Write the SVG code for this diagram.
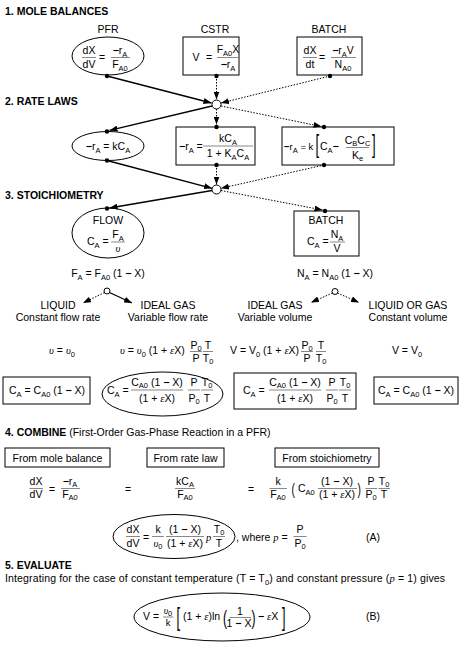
<svg xmlns="http://www.w3.org/2000/svg" width="464" height="646" viewBox="0 0 464 646">
<style>
text{font-family:"Liberation Sans",Arial,sans-serif;font-size:10.5px;fill:#000}
.m{text-anchor:middle}
.b{font-weight:bold}
.s{font-size:7.5px}
.mn{font-weight:bold}
.v{font-family:"Liberation Serif","Times New Roman",serif;font-style:italic}
.bx{fill:none;stroke:#000;stroke-width:1}
.fl{stroke:#555;stroke-width:0.7}
.jn{fill:#fff;stroke:#000;stroke-width:1}
.sol{fill:none;stroke:#000;stroke-width:1.3}
.dt{fill:none;stroke:#000;stroke-width:1;stroke-dasharray:1.5 1.5}
.pt{fill:#000}
</style>
<defs>
<marker id="ar" markerUnits="userSpaceOnUse" markerWidth="8" markerHeight="6" refX="8" refY="3" orient="auto">
<path d="M0,0 L8,3 L0,6 z" fill="#000"/>
</marker>
</defs>
<rect width="464" height="646" fill="#fff"/>

<g id="headings">
<text x="5" y="15" class="b">1. MOLE BALANCES</text>
<text x="5" y="105" class="b">2. RATE LAWS</text>
<text x="5" y="199" class="b">3. STOICHIOMETRY</text>
<text x="5" y="436"><tspan class="b">4. COMBINE</tspan> (First-Order Gas-Phase Reaction in a PFR)</text>
<text x="5" y="569" class="b">5. EVALUATE</text>
</g>

<g id="connectors">
<line class="sol" x1="107" y1="76" x2="211.5" y2="103" marker-end="url(#ar)"/>
<line class="dt" x1="216.5" y1="76" x2="216.5" y2="99.5" marker-end="url(#ar)"/>
<line class="dt" x1="330" y1="76" x2="221" y2="103" marker-end="url(#ar)"/>
<line class="sol" x1="212" y1="106" x2="109.5" y2="130.4" marker-end="url(#ar)"/>
<line class="dt" x1="216.5" y1="109" x2="216.5" y2="124.5" marker-end="url(#ar)"/>
<line class="dt" x1="221" y1="106" x2="321.5" y2="126.5" marker-end="url(#ar)"/>
<line class="sol" x1="107" y1="160.5" x2="212" y2="188.3" marker-end="url(#ar)"/>
<line class="dt" x1="216.5" y1="165" x2="216.5" y2="184.5" marker-end="url(#ar)"/>
<line class="dt" x1="324" y1="165" x2="221" y2="188.3" marker-end="url(#ar)"/>
<line class="sol" x1="212" y1="190.5" x2="109.5" y2="208" marker-end="url(#ar)"/>
<line class="dt" x1="221" y1="190.5" x2="322.5" y2="210" marker-end="url(#ar)"/>
<line class="dt" x1="104.5" y1="292.5" x2="83" y2="303" marker-end="url(#ar)"/>
<line class="sol" x1="109.5" y1="292.5" x2="132" y2="303" marker-end="url(#ar)"/>
<line class="dt" x1="332.5" y1="293" x2="311" y2="302.5" marker-end="url(#ar)"/>
<line class="dt" x1="337.5" y1="293" x2="359" y2="302.5" marker-end="url(#ar)"/>
<circle class="pt" cx="107" cy="76" r="2.2"/>
<circle class="pt" cx="216.5" cy="76" r="2.2"/>
<circle class="pt" cx="330" cy="76" r="2.2"/>
<circle class="pt" cx="107" cy="131.5" r="2.2"/>
<circle class="pt" cx="216.5" cy="127" r="2.2"/>
<circle class="pt" cx="324" cy="127" r="2.2"/>
<circle class="pt" cx="107" cy="160.5" r="2.2"/>
<circle class="pt" cx="216.5" cy="165" r="2.2"/>
<circle class="pt" cx="324" cy="165" r="2.2"/>
<circle class="pt" cx="107" cy="208.5" r="2.2"/>
<circle class="pt" cx="325" cy="211" r="2.2"/>
</g>

<g id="pfr">
<text x="108" y="33" class="m">PFR</text>
<ellipse cx="108" cy="56" rx="36" ry="19" class="bx"/>
<text x="89" y="54" class="m">dX</text>
<line class="fl" x1="82" y1="57.5" x2="96" y2="57.5"/>
<text x="89" y="68" class="m">dV</text>
<text x="102" y="61" class="m">=</text>
<text x="120" y="54" class="m"><tspan class="mn">−</tspan>r<tspan class="s" dy="2.5">A</tspan></text>
<line class="fl" x1="111" y1="57.5" x2="130" y2="57.5"/>
<text x="120" y="68" class="m">F<tspan class="s" dy="2.5">A0</tspan></text>
</g>

<g id="cstr">
<text x="215" y="33" class="m">CSTR</text>
<rect x="183" y="37" width="56" height="38" class="bx"/>
<text x="196" y="61" class="m">V</text>
<text x="209" y="61" class="m">=</text>
<text x="228" y="53" class="m">F<tspan class="s" dy="2.5">A0</tspan><tspan dy="-2.5">X</tspan></text>
<line class="fl" x1="217" y1="57.5" x2="238" y2="57.5"/>
<text x="228" y="68" class="m"><tspan class="mn">−</tspan>r<tspan class="s" dy="2.5">A</tspan></text>
</g>

<g id="batch">
<text x="329" y="33" class="m">BATCH</text>
<rect x="297" y="37" width="65" height="38" class="bx"/>
<text x="310" y="54" class="m">dX</text>
<line class="fl" x1="303" y1="57.5" x2="317" y2="57.5"/>
<text x="310" y="68" class="m">dt</text>
<text x="322" y="61" class="m">=</text>
<text x="343" y="54" class="m"><tspan class="mn">−</tspan>r<tspan class="s" dy="2.5">A</tspan><tspan dy="-2.5">V</tspan></text>
<line class="fl" x1="331" y1="57.5" x2="356" y2="57.5"/>
<text x="343" y="68" class="m">N<tspan class="s" dy="2.5">A0</tspan></text>
</g>

<g id="junction1"><circle cx="216.5" cy="104.5" r="4.5" class="jn"/></g>

<g id="rate-elementary">
<ellipse cx="108" cy="146" rx="36" ry="14.5" class="bx"/>
<text x="108" y="150" class="m"><tspan class="mn">−</tspan>r<tspan class="s" dy="2.5">A</tspan><tspan dy="-2.5"> = kC</tspan><tspan class="s" dy="2.5">A</tspan></text>
</g>

<g id="rate-langmuir">
<rect x="176" y="127" width="79" height="38" class="bx"/>
<text x="179" y="150"><tspan class="mn">−</tspan>r<tspan class="s" dy="2.5">A</tspan><tspan dy="-2.5"> =</tspan></text>
<text x="228" y="142" class="m">kC<tspan class="s" dy="2.5">A</tspan></text>
<line class="fl" x1="203" y1="146" x2="253" y2="146"/>
<text x="228" y="157" class="m">1 + K<tspan class="s" dy="2.5">A</tspan><tspan dy="-2.5">C</tspan><tspan class="s" dy="2.5">A</tspan></text>
</g>

<g id="rate-reversible">
<rect x="282" y="127" width="112" height="38" class="bx"/>
<text x="284" y="150" style="font-size:9.5px"><tspan class="mn">−</tspan>r<tspan class="s" dy="2.5">A</tspan><tspan dy="-2.5"> = k</tspan></text>
<text transform="translate(315.5,152.5) scale(0.5,1)" style="font-size:26px">[</text>
<text x="320" y="150">C<tspan class="s" dy="2.5">A</tspan><tspan dy="-2.5" class="mn">−</tspan></text>
<text x="357.5" y="143.5" class="m">C<tspan class="s" dy="2">B</tspan><tspan dy="-2">C</tspan><tspan class="s" dy="2">C</tspan></text>
<line class="fl" x1="346" y1="147.5" x2="369" y2="147.5"/>
<text x="357.5" y="158.5" class="m">K<tspan class="s" dy="2">e</tspan></text>
<text transform="translate(372,152.5) scale(0.5,1)" style="font-size:26px">]</text>
</g>

<g id="junction2"><circle cx="216.5" cy="189.5" r="4.5" class="jn"/></g>

<g id="flow">
<ellipse cx="108" cy="233" rx="36" ry="25" class="bx"/>
<text x="108" y="224" class="m">FLOW</text>
<text x="87" y="245">C<tspan class="s" dy="2.5">A</tspan><tspan dy="-2.5"> =</tspan></text>
<text x="118" y="238" class="m">F<tspan class="s" dy="2.5">A</tspan></text>
<line class="fl" x1="111" y1="242" x2="125" y2="242"/>
<text x="118" y="252" class="m v">υ</text>
</g>

<g id="batch-stoich">
<rect x="294" y="211" width="65" height="45" class="bx"/>
<text x="326" y="224" class="m">BATCH</text>
<text x="307" y="245">C<tspan class="s" dy="2.5">A</tspan><tspan dy="-2.5"> =</tspan></text>
<text x="337" y="238" class="m">N<tspan class="s" dy="2.5">A</tspan></text>
<line class="fl" x1="330" y1="242" x2="345" y2="242"/>
<text x="337" y="252" class="m">V</text>
</g>

<g id="flow-molar">
<text x="108" y="277" class="m">F<tspan class="s" dy="2.5">A</tspan><tspan dy="-2.5"> = F</tspan><tspan class="s" dy="2.5">A0</tspan><tspan dy="-2.5"> (1 </tspan><tspan class="mn">−</tspan> X)</text>
<circle cx="107" cy="291" r="3" class="jn"/>
</g>
<g id="batch-molar">
<text x="335" y="277" class="m">N<tspan class="s" dy="2.5">A</tspan><tspan dy="-2.5"> = N</tspan><tspan class="s" dy="2.5">A0</tspan><tspan dy="-2.5"> (1 </tspan><tspan class="mn">−</tspan> X)</text>
<circle cx="335" cy="291.5" r="3" class="jn"/>
</g>

<g id="liquid">
<text x="58" y="309" class="m">LIQUID</text>
<text x="58" y="321" class="m">Constant flow rate</text>
<text x="62" y="354" class="m"><tspan class="v">υ</tspan> = <tspan class="v">υ</tspan><tspan class="s" dy="2.5">0</tspan></text>
<rect x="3" y="377" width="87" height="27" class="bx"/>
<text x="47" y="394" class="m">C<tspan class="s" dy="2.5">A</tspan><tspan dy="-2.5"> = C</tspan><tspan class="s" dy="2.5">A0</tspan><tspan dy="-2.5"> (1 </tspan><tspan class="mn">−</tspan> X)</text>
</g>

<g id="gas-flow">
<text x="168" y="309" class="m">IDEAL GAS</text>
<text x="168" y="321" class="m">Variable flow rate</text>
<text x="120" y="354"><tspan class="v">υ</tspan> = <tspan class="v">υ</tspan><tspan class="s" dy="2.5">0</tspan><tspan dy="-2.5"> (1 + </tspan><tspan class="v">ε</tspan>X)</text>
<text x="196" y="348.5" class="m">P<tspan class="s" dy="2">0</tspan></text>
<line class="fl" x1="190" y1="351.5" x2="202" y2="351.5"/>
<text x="196" y="362" class="m">P</text>
<text x="208" y="348.5" class="m">T</text>
<line class="fl" x1="203" y1="351.5" x2="213" y2="351.5"/>
<text x="208" y="362" class="m">T<tspan class="s" dy="2">0</tspan></text>
<ellipse cx="162.5" cy="394" rx="60.5" ry="22" class="bx"/>
<text x="107" y="394">C<tspan class="s" dy="2.5">A</tspan><tspan dy="-2.5"> =</tspan></text>
<text x="157" y="386" class="m">C<tspan class="s" dy="2">A0</tspan><tspan dy="-2"> (1 </tspan><tspan class="mn">−</tspan> X)</text>
<line class="fl" x1="131" y1="390" x2="183" y2="390"/>
<text x="157" y="402" class="m">(1 + <tspan class="v">ε</tspan>X)</text>
<text x="194" y="386" class="m">P</text>
<line class="fl" x1="188" y1="390" x2="200" y2="390"/>
<text x="194" y="402" class="m">P<tspan class="s" dy="2">0</tspan></text>
<text x="207" y="386" class="m">T<tspan class="s" dy="2">0</tspan></text>
<line class="fl" x1="201" y1="390" x2="213" y2="390"/>
<text x="207" y="402" class="m">T</text>
</g>

<g id="gas-volume">
<text x="275" y="309" class="m">IDEAL GAS</text>
<text x="275" y="321" class="m">Variable volume</text>
<text x="230" y="354">V = V<tspan class="s" dy="2.5">0</tspan><tspan dy="-2.5"> (1 + </tspan><tspan class="v">ε</tspan>X)</text>
<text x="307" y="348.5" class="m">P<tspan class="s" dy="2">0</tspan></text>
<line class="fl" x1="301" y1="351.5" x2="313" y2="351.5"/>
<text x="307" y="362" class="m">P</text>
<text x="321" y="348.5" class="m">T</text>
<line class="fl" x1="316" y1="351.5" x2="326" y2="351.5"/>
<text x="321" y="362" class="m">T<tspan class="s" dy="2">0</tspan></text>
<rect x="234" y="373" width="122" height="36" class="bx"/>
<text x="243" y="394">C<tspan class="s" dy="2.5">A</tspan><tspan dy="-2.5"> =</tspan></text>
<text x="295" y="386" class="m">C<tspan class="s" dy="2">A0</tspan><tspan dy="-2"> (1 </tspan><tspan class="mn">−</tspan> X)</text>
<line class="fl" x1="269" y1="390" x2="321" y2="390"/>
<text x="295" y="402" class="m">(1 + <tspan class="v">ε</tspan>X)</text>
<text x="332" y="386" class="m">P</text>
<line class="fl" x1="326" y1="390" x2="338" y2="390"/>
<text x="332" y="402" class="m">P<tspan class="s" dy="2">0</tspan></text>
<text x="345" y="386" class="m">T<tspan class="s" dy="2">0</tspan></text>
<line class="fl" x1="339" y1="390" x2="351" y2="390"/>
<text x="345" y="402" class="m">T</text>
</g>

<g id="constant-volume">
<text x="408" y="309" class="m">LIQUID OR GAS</text>
<text x="408" y="321" class="m">Constant volume</text>
<text x="407" y="354" class="m">V = V<tspan class="s" dy="2.5">0</tspan></text>
<rect x="374" y="377" width="84" height="27" class="bx"/>
<text x="416" y="394" class="m">C<tspan class="s" dy="2.5">A</tspan><tspan dy="-2.5"> = C</tspan><tspan class="s" dy="2.5">A0</tspan><tspan dy="-2.5"> (1 </tspan><tspan class="mn">−</tspan> X)</text>
</g>

<g id="combine">
<rect x="5" y="448" width="105" height="19" class="bx"/>
<text x="57.5" y="461.5" class="m">From mole balance</text>
<rect x="147" y="448" width="77" height="19" class="bx"/>
<text x="185.5" y="461.5" class="m">From rate law</text>
<rect x="275" y="448" width="104" height="19" class="bx"/>
<text x="327" y="461.5" class="m">From stoichiometry</text>

<text x="36" y="485" class="m">dX</text>
<line class="fl" x1="29.5" y1="488.5" x2="43" y2="488.5"/>
<text x="36" y="497.5" class="m">dV</text>
<text x="52" y="492.5" class="m">=</text>
<text x="70" y="485" class="m"><tspan class="mn">−</tspan>r<tspan class="s" dy="2">A</tspan></text>
<line class="fl" x1="61" y1="488.5" x2="80" y2="488.5"/>
<text x="70" y="497.5" class="m">F<tspan class="s" dy="2">A0</tspan></text>
<text x="128" y="492.5" class="m">=</text>
<text x="185" y="485" class="m">kC<tspan class="s" dy="2">A</tspan></text>
<line class="fl" x1="175" y1="488.5" x2="195" y2="488.5"/>
<text x="185" y="497.5" class="m">F<tspan class="s" dy="2">A0</tspan></text>
<text x="251" y="492.5" class="m">=</text>
<text x="278" y="485" class="m">k</text>
<line class="fl" x1="269.5" y1="488.5" x2="287" y2="488.5"/>
<text x="278" y="497.5" class="m">F<tspan class="s" dy="2">A0</tspan></text>
<text transform="translate(291.5,494.5) scale(0.6,1)" style="font-size:17px">(</text>
<text x="298" y="492">C<tspan class="s" dy="2.5">A0</tspan></text>
<text x="337" y="485" class="m">(1 <tspan class="mn">−</tspan> X)</text>
<line class="fl" x1="318" y1="488.5" x2="357" y2="488.5"/>
<text x="337" y="497.5" class="m">(1 + <tspan class="v">ε</tspan>X)</text>
<text transform="translate(357.5,494.5) scale(0.6,1)" style="font-size:17px">)</text>
<text x="371" y="485" class="m">P</text>
<line class="fl" x1="365.5" y1="488.5" x2="377" y2="488.5"/>
<text x="371" y="497.5" class="m">P<tspan class="s" dy="2">0</tspan></text>
<text x="384" y="485" class="m">T<tspan class="s" dy="2">0</tspan></text>
<line class="fl" x1="378.5" y1="488.5" x2="390" y2="488.5"/>
<text x="384" y="497.5" class="m">T</text>
</g>

<g id="equation-a">
<ellipse cx="174" cy="536.5" rx="61" ry="22" class="bx"/>
<text x="133" y="532.5" class="m">dX</text>
<line class="fl" x1="126" y1="536.5" x2="140" y2="536.5"/>
<text x="133" y="547" class="m">dV</text>
<text x="146" y="540.5" class="m">=</text>
<text x="158" y="532.5" class="m">k</text>
<line class="fl" x1="152" y1="536.5" x2="164" y2="536.5"/>
<text x="158" y="547" class="m"><tspan class="v">υ</tspan><tspan class="s" dy="2">0</tspan></text>
<text x="185" y="532.5" class="m">(1 <tspan class="mn">−</tspan> X)</text>
<line class="fl" x1="166" y1="536.5" x2="204" y2="536.5"/>
<text x="185" y="547" class="m">(1 + <tspan class="v">ε</tspan>X)</text>
<text x="208.5" y="540.5" class="m v">p</text>
<text x="219" y="532.5" class="m">T<tspan class="s" dy="2">0</tspan></text>
<line class="fl" x1="213" y1="536.5" x2="225" y2="536.5"/>
<text x="219" y="547" class="m">T</text>
<text x="236" y="540.5">, where <tspan class="v">p</tspan> =</text>
<text x="300" y="532.5" class="m">P</text>
<line class="fl" x1="293.5" y1="536.5" x2="306.5" y2="536.5"/>
<text x="300" y="547" class="m">P<tspan class="s" dy="2">0</tspan></text>
<text x="373" y="540.5" class="m">(A)</text>
</g>

<g id="evaluate">
<text x="5" y="582" textLength="440" lengthAdjust="spacing">Integrating for the case of constant temperature (T = T<tspan class="s" dy="2.5">0</tspan><tspan dy="-2.5">) and constant pressure (</tspan><tspan class="v">p</tspan> = 1) gives</text>
</g>

<g id="equation-b">
<ellipse cx="222" cy="617" rx="88" ry="24" class="bx"/>
<text x="143" y="619.5">V =</text>
<text x="168" y="614" class="m" style="font-size:9.5px"><tspan class="v">υ</tspan><tspan class="s" dy="2">0</tspan></text>
<line class="fl" x1="163" y1="617" x2="173.5" y2="617"/>
<text x="168" y="626" class="m" style="font-size:9.5px">k</text>
<text transform="translate(176.5,626) scale(0.5,1)" style="font-size:25px">[</text>
<text x="183" y="619.5">(1 + <tspan class="v">ε</tspan>)ln</text>
<text transform="translate(223,624.5) scale(0.6,1)" style="font-size:20px">(</text>
<text x="240" y="614.5" class="m">1</text>
<line class="fl" x1="229.5" y1="617.5" x2="251" y2="617.5"/>
<text x="239" y="627" class="m">1 <tspan class="mn">−</tspan> X</text>
<text transform="translate(251.5,624.5) scale(0.6,1)" style="font-size:20px">)</text>
<text x="258" y="619.5"><tspan class="mn">−</tspan> <tspan class="v">ε</tspan>X</text>
<text transform="translate(282,626) scale(0.5,1)" style="font-size:25px">]</text>
<text x="373" y="619.5" class="m">(B)</text>
</g>
</svg>
